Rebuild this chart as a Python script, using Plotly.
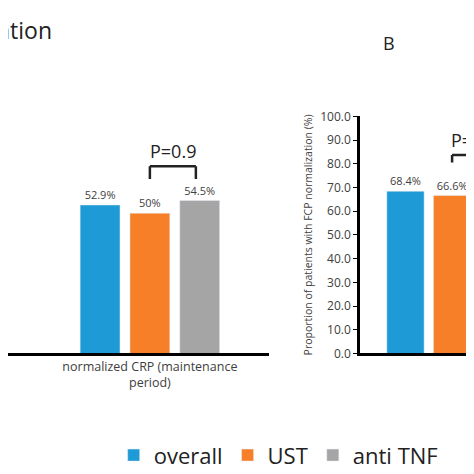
import plotly.graph_objects as go

cats_a = [0, 1]
labels_a = ["normalized CRP (induction period)", "normalized CRP (maintenance<br>period)"]
overall_a = [None, 52.9]
ust_a = [None, 50.0]
anti_a = [None, 54.5]
text_overall_a = ["", "52.9%"]
text_ust_a = ["", "50%"]
text_anti_a = ["", "54.5%"]

cats_b = [0]
labels_b = ["elevated FCP  in treatment period"]
overall_b = [68.4]
ust_b = [66.6]
anti_b = [70.0]
text_overall_b = ["68.4%"]
text_ust_b = ["66.6%"]
text_anti_b = ["70%"]

colors = {"overall": "#1e9ad6", "UST": "#f77f27", "anti TNF": "#a5a5a5"}
tf = dict(family="Open Sans", size=11, color="#404040")
lf = dict(family="Open Sans", size=12.5, color="#404040")

fig = go.Figure()
for name, ya, ta, yb, tb in [("overall", overall_a, text_overall_a, overall_b, text_overall_b),
                             ("UST", ust_a, text_ust_a, ust_b, text_ust_b),
                             ("anti TNF", anti_a, text_anti_a, anti_b, text_anti_b)]:
    fig.add_trace(go.Bar(x=cats_a, y=ya, text=ta, textposition="outside", textfont=tf,
                         marker_color=colors[name], name=name, xaxis="x", yaxis="y",
                         cliponaxis=False, legendgroup=name))
    fig.add_trace(go.Bar(x=cats_b, y=yb, text=tb, textposition="outside", textfont=tf,
                         marker_color=colors[name], name=name, xaxis="x2", yaxis="y2",
                         cliponaxis=False, showlegend=False, legendgroup=name))

def bracket(xa, ya, x0, x1, ytop, ybot, label, ytext):
    for (a, b, c, d) in [(x0, ytop, x1, ytop), (x0, ybot, x0, ytop), (x1, ybot, x1, ytop)]:
        fig.add_shape(type="line", xref=xa, yref=ya, x0=a, y0=b, x1=c, y1=d,
                      line=dict(color="#222", width=2.5))
    fig.add_annotation(xref=xa, yref=ya, x=(x0 + x1) / 2, y=ytext, text=label, showarrow=False,
                       font=dict(family="Open Sans", size=18, color="#222"), yanchor="bottom")

bracket("x", "y", 1.0, 1.2, 66.7, 62.2, "P=0.9", 67.0)
bracket("x2", "y2", 0.0, 0.2, 83.7, 80.5, "P=0.8", 84.0)

# first category label of panel A (off the visible range, cropped like the reference)
fig.add_annotation(xref="x", yref="paper", x=cats_a[0], y=125/474 - 0.012, text=labels_a[0],
                   showarrow=False, yanchor="top", font=lf)

fig.add_annotation(xref="paper", yref="paper", x=0.098, y=1.01, text="CRP normalization",
                   showarrow=False, xanchor="right", yanchor="top",
                   font=dict(family="Open Sans", size=23, color="#222"))
fig.add_annotation(xref="paper", yref="paper", x=389/474, y=1 - 12/474, text="B",
                   showarrow=False, yanchor="top",
                   font=dict(family="Open Sans", size=18, color="#222"))

ydom = [125/474, 371/474]
fig.update_layout(
    width=474, height=474, margin=dict(l=0, r=0, t=0, b=0),
    paper_bgcolor="white", plot_bgcolor="white",
    barmode="group", bargap=0.35, bargroupgap=0.2,
    xaxis=dict(domain=[0, 261/474], range=[0.383, 1.518], tickvals=[cats_a[1]], ticktext=[labels_a[1]],
               showline=True, linecolor="black", linewidth=2.5, showgrid=False, ticks="",
               tickfont=lf, anchor="y"),
    yaxis=dict(domain=ydom, range=[0, 84.5], visible=False, anchor="x"),
    xaxis2=dict(domain=[352/474, 1], range=[-0.428, 0.139], tickvals=cats_b, ticktext=labels_b,
                showline=True, linecolor="black", linewidth=2.5, showgrid=False, ticks="",
                tickfont=dict(family="Open Sans", size=11.5, color="#404040"), anchor="y2"),
    yaxis2=dict(domain=ydom, range=[0, 100], dtick=10, tickformat=".1f", showline=True,
                linecolor="black", linewidth=2.5, showgrid=False, ticks="outside", ticklen=4,
                tickcolor="black", tickfont=dict(family="Open Sans", size=12, color="#404040"),
                title=dict(text="Proportion of patients with FCP normalization (%)",
                           font=dict(family="Open Sans", size=10.5, color="#404040"), standoff=6),
                anchor="x2", zeroline=False),
    legend=dict(orientation="h", x=0.57, xanchor="center", y=-0.005, yanchor="bottom",
                font=dict(family="Open Sans", size=22, color="#222"), itemwidth=30),
)
fig.write_html("out.html")
